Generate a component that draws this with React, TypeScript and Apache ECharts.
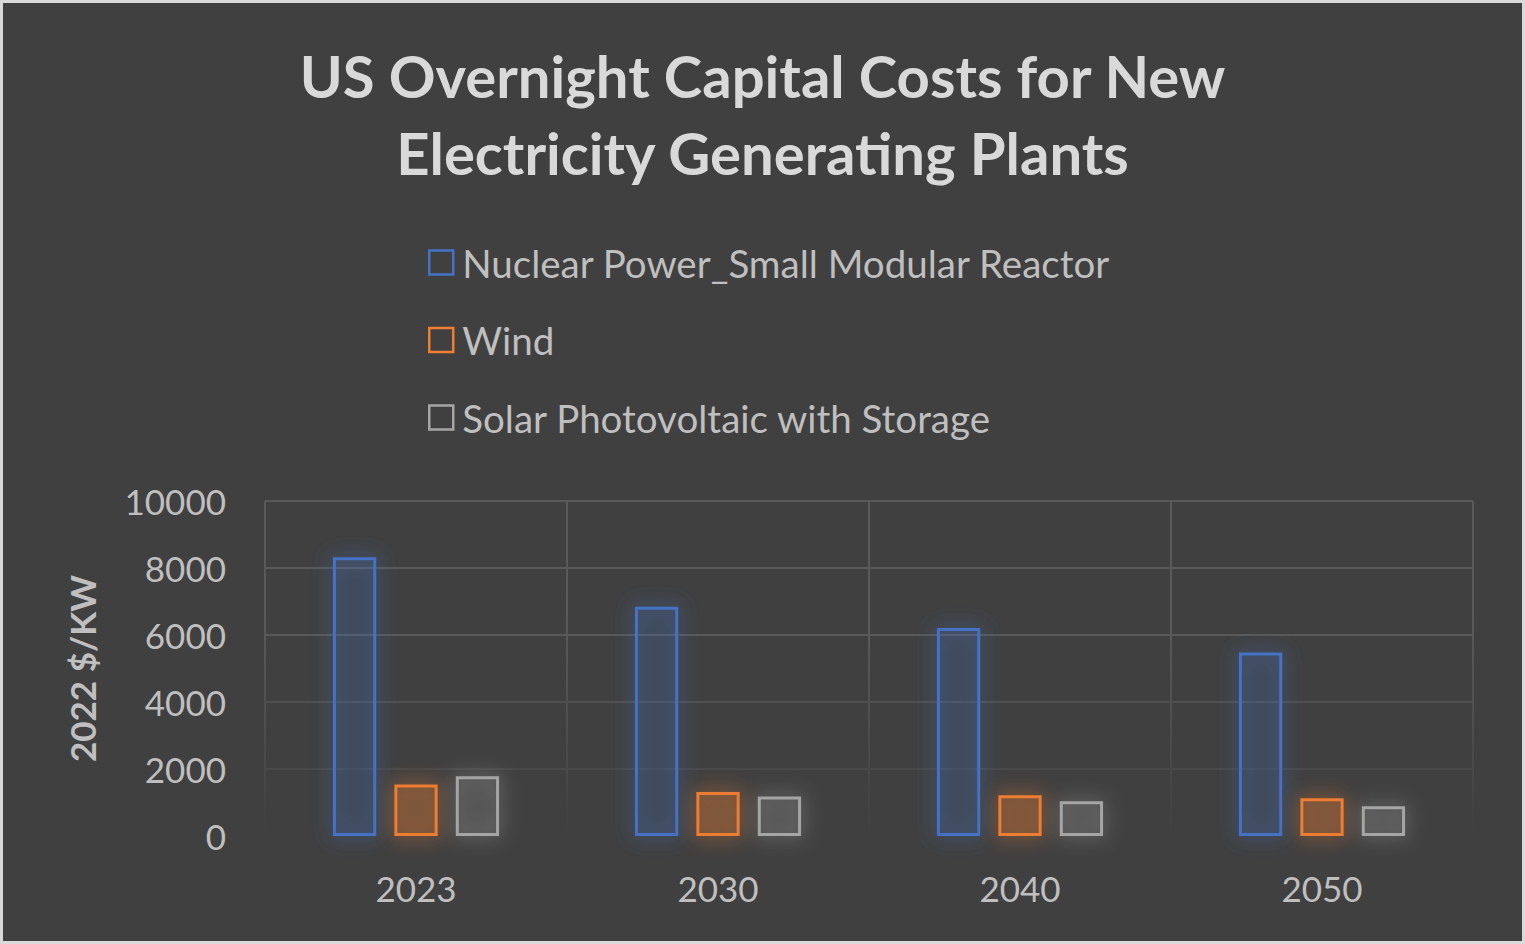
import React, { useEffect, useRef } from "react";
import * as echarts from "echarts";

const categories = ["2023", "2030", "2040", "2050"];
const seriesNames = [
  "Nuclear Power_Small Modular Reactor",
  "Wind",
  "Solar Photovoltaic with Storage",
];
const nuclearValues = [8320, 6840, 6210, 5480];
const windValues = [1540, 1310, 1220, 1130];
const solarValues = [1780, 1180, 1040, 890];
const yTicks = [0, 2000, 4000, 6000, 8000, 10000];

const titleText = "US Overnight Capital Costs for New\nElectricity Generating Plants";
const yAxisName = "2022 $/KW";

const COLORS = ["#4472c4", "#ed7d31", "#a5a5a5"];
const GLOWS = ["rgba(68,114,196,1)", "rgba(237,125,49,1)", "rgba(165,165,165,1)"];
const FILLS = ["rgba(68,114,196,0.1)", "rgba(237,125,49,0.18)", "rgba(165,165,165,0.1)"];
const FONT = "Lato";

export default function App() {
  const ref = useRef<HTMLDivElement>(null);

  useEffect(() => {
    if (!ref.current) return;
    const chart = echarts.init(ref.current, undefined, { renderer: "svg" });
    const values = [nuclearValues, windValues, solarValues];

    const option: any = {
      animation: false,
      backgroundColor: "#404040",
      textStyle: { fontFamily: FONT },
      title: {
        text: titleText,
        left: "center",
        top: 29,
        textStyle: {
          fontFamily: FONT,
          fontSize: 58,
          fontWeight: "bold",
          color: "#d9d9d9",
          lineHeight: 77,
        },
      },
      legend: {
        orient: "vertical",
        left: 420,
        top: 235,
        itemWidth: 24,
        itemHeight: 24,
        itemGap: 38.5,
        icon: "rect",
        data: seriesNames,
        itemStyle: {
          color: "rgba(0,0,0,0)",
          borderWidth: 2.5,
          shadowBlur: 0,
          shadowColor: "rgba(0,0,0,0)",
        },
        textStyle: {
          fontFamily: FONT,
          fontSize: 38.5,
          color: "#bfbfbf",
          padding: [0, 0, 0, 4],
        },
      },
      grid: {
        left: 262,
        top: 498,
        right: 49,
        bottom: 105,
        containLabel: false,
      },
      xAxis: {
        type: "category",
        data: categories,
        axisLine: { show: false },
        axisTick: { show: false },
        axisLabel: {
          fontFamily: FONT,
          fontSize: 35,
          color: "#bfbfbf",
          margin: 34,
        },
        splitLine: {
          show: true,
          lineStyle: {
            width: 2,
            color: new echarts.graphic.LinearGradient(
              0,
              498,
              0,
              833,
              [
                { offset: 0, color: "#5a5a5a" },
                { offset: 0.4, color: "#595959" },
                { offset: 1, color: "#404040" },
              ],
              true
            ),
          },
        },
      },
      yAxis: {
        type: "value",
        min: yTicks[0],
        max: yTicks[yTicks.length - 1],
        interval: yTicks[1] - yTicks[0],
        name: yAxisName,
        nameLocation: "middle",
        nameGap: 166,
        nameTextStyle: {
          fontFamily: FONT,
          fontSize: 35,
          fontWeight: "bold",
          color: "#bfbfbf",
        },
        axisLine: { show: false },
        axisTick: { show: false },
        axisLabel: {
          fontFamily: FONT,
          fontSize: 35,
          color: "#bfbfbf",
          margin: 39,
          formatter: (v: number) => String(v),
        },
        splitLine: {
          show: true,
          lineStyle: {
            width: 2,
            color: ["#404040", "#494949", "#505050", "#595959", "#5a5a5a", "#5a5a5a"],
          },
        },
      },
      series: seriesNames.map((name, i) => ({
        name,
        type: "bar",
        data: values[i],
        barCategoryGap: "45%",
        barGap: "42%",
        itemStyle: {
          color: FILLS[i],
          borderColor: COLORS[i],
          borderWidth: 3,
          shadowBlur: 20,
          shadowColor: GLOWS[i],
        },
        emphasis: { disabled: true },
      })),
    };

    chart.setOption(option);
    return () => chart.dispose();
  }, []);

  return (
    <div
      style={{
        position: "fixed",
        left: 0,
        top: 0,
        width: 1525,
        height: 944,
        background: "#d9d9d9",
      }}
    >
      <div
        ref={ref}
        style={{ position: "absolute", left: 3, top: 3, width: 1519, height: 938 }}
      />
    </div>
  );
}
